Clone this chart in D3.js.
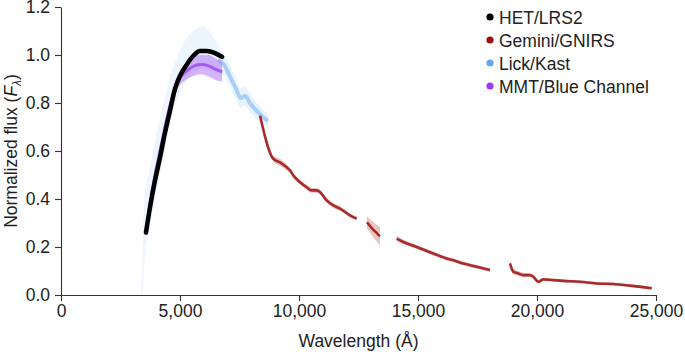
<!DOCTYPE html>
<html>
<head>
  <title>Normalized spectrum</title>
  <script src="https://cdnjs.cloudflare.com/ajax/libs/d3/7.8.5/d3.min.js"></script>
  <style>
    body { margin: 0; background: #fff; }
    text { font-family: "Liberation Sans", Arial, Helvetica, sans-serif; fill: #222; }
    .axis path, .axis line { stroke: #333; stroke-width: 1.1px; }
    .axis text { font-size: 17.5px; fill: #222; }
  </style>
</head>
<body>
  <svg width="685" height="354"></svg>
<script>
// values (wavelength in Angstrom, normalized flux)
// null marks a gap in a spectrum
var hetWave = [3570, 3740, 3950, 4160, 4370, 4580, 4790, 5000, 5300, 5550, 5840, 6130, 6470, 6770];
var hetFlux = [0.26, 0.365, 0.477, 0.573, 0.676, 0.768, 0.859, 0.913, 0.963, 0.996, 1.017, 1.017, 1.008, 0.992];

var mmtWave = [3650, 3800, 3950, 4160, 4370, 4580, 4790, 5000, 5300, 5600, 5900, 6200, 6500, 6770];
var mmtFlux = [0.32, 0.42, 0.50, 0.60, 0.70, 0.79, 0.865, 0.905, 0.935, 0.955, 0.96, 0.955, 0.94, 0.93];
var mmtSpread = [0.02, 0.02, 0.02, 0.02, 0.02, 0.02, 0.025, 0.03, 0.035, 0.04, 0.04, 0.045, 0.045, 0.04];

var lickWave = [3390, 3430, 3470, 3500, 3700, 3900, 4100, 4300, 4550, 4800, 5100, 5400, 5700, 6000, 6300, 6600,
                6850, 7100, 7350, 7560, 7730, 7940, 8190, 8450, 8700];
var lickFlux = [0.02, 0.10, 0.20, 0.26, 0.39, 0.49, 0.59, 0.685, 0.80, 0.88, 0.95, 0.995, 1.02, 1.03, 1.01, 0.98,
                0.96, 0.91, 0.86, 0.82, 0.83, 0.80, 0.77, 0.745, 0.725];
var lickSpread = [0.03, 0.08, 0.12, 0.12, 0.12, 0.12, 0.12, 0.11, 0.10, 0.09, 0.09, 0.09, 0.09, 0.09, 0.08, 0.06,
                  0.045, 0.045, 0.045, 0.04, 0.04, 0.04, 0.035, 0.03, 0.03];

var gnirsWave = [8362, 8922, 9202, 9483, 9622, 9762, 10042, 10322, 10532, 10742, 10882, 11163, 11443, 11723, 12143, 12423,
                 null,
                 12857, 13067, 13277, 13403,
                 null,
                 14105, 14385, 14945, 15645, 16206, 16486, 16906, 17466, 17887, 18025,
                 null,
                 18866, 19006, 19216, 19426, 19706, 19846, 20056, 20266, 20686, 21106, 21807, 22507, 23208, 23909, 24819];
var gnirsFlux = [0.747, 0.567, 0.553, 0.532, 0.519, 0.498, 0.470, 0.449, 0.436, 0.436, 0.429, 0.394, 0.373, 0.360, 0.332, 0.318,
                 null,
                 0.303, 0.278, 0.257, 0.245,
                 null,
                 0.235, 0.221, 0.200, 0.173, 0.152, 0.145, 0.131, 0.118, 0.107, 0.104,
                 null,
                 0.132, 0.097, 0.090, 0.083, 0.083, 0.076, 0.055, 0.065, 0.062, 0.059, 0.055, 0.048, 0.046, 0.039, 0.028];
var gnirsSpread = [0.012, 0.012, 0.015, 0.012, 0.01, 0.01, 0.01, 0.01, 0.01, 0.01, 0.01, 0.01, 0.01, 0.01, 0.008, 0.008,
                   null,
                   0.025, 0.03, 0.035, 0.04,
                   null,
                   0.012, 0.01, 0.008, 0.008, 0.008, 0.008, 0.008, 0.008, 0.008, 0.008,
                   null,
                   0.015, 0.012, 0.01, 0.01, 0.008, 0.008, 0.008, 0.006, 0.006, 0.006, 0.006, 0.006, 0.006, 0.006, 0.006];

var xTicks = [0, 5000, 10000, 15000, 20000, 25000];
var yTicks = [0, 0.2, 0.4, 0.6, 0.8, 1.0, 1.2];

var legendNames = ["HET/LRS2", "Gemini/GNIRS", "Lick/Kast", "MMT/Blue Channel"];
var legendColors = ["#000000", "#9b1111", "#66a8f0", "#9a3cf2"];

function zipSeries(w, f, s) {
  return w.map(function(d, i) { return {w: d, f: f[i], s: s ? s[i] : 0}; });
}

var svg = d3.select("svg"),
    margin = {top: 7, right: 29, bottom: 59, left: 61},
    width = +svg.attr("width") - margin.left - margin.right,
    height = +svg.attr("height") - margin.top - margin.bottom,
    g = svg.append("g").attr("transform", "translate(" + margin.left + "," + margin.top + ")");

var x = d3.scaleLinear().domain([0, 25000]).range([0, width]);
var y = d3.scaleLinear().domain([0, 1.2]).range([height, 0]);

var line = d3.line()
    .defined(function(d) { return d.f != null; })
    .x(function(d) { return x(d.w); })
    .y(function(d) { return y(d.f); })
    .curve(d3.curveMonotoneX);

var band = d3.area()
    .defined(function(d) { return d.f != null; })
    .x(function(d) { return x(d.w); })
    .y0(function(d) { return y(d.f - d.s); })
    .y1(function(d) { return y(d.f + d.s); })
    .curve(d3.curveMonotoneX);

// the Lick cloud is faint where it sits under the other spectra
var grad = svg.append("defs").append("linearGradient")
    .attr("id", "lickFade")
    .attr("gradientUnits", "userSpaceOnUse")
    .attr("x1", margin.left + x(3300)).attr("x2", margin.left + x(8800))
    .attr("y1", 0).attr("y2", 0);
grad.append("stop").attr("offset", "0").attr("stop-color", "#8fc0f6").attr("stop-opacity", 0.16);
grad.append("stop").attr("offset", "0.62").attr("stop-color", "#8fc0f6").attr("stop-opacity", 0.22);
grad.append("stop").attr("offset", "0.66").attr("stop-color", "#8fc0f6").attr("stop-opacity", 0.6);
grad.append("stop").attr("offset", "1").attr("stop-color", "#8fc0f6").attr("stop-opacity", 0.6);

var lick = zipSeries(lickWave, lickFlux, lickSpread),
    mmt = zipSeries(mmtWave, mmtFlux, mmtSpread),
    gnirs = zipSeries(gnirsWave, gnirsFlux, gnirsSpread),
    het = zipSeries(hetWave, hetFlux);

// axes
g.append("g")
    .attr("class", "axis axis--x")
    .attr("transform", "translate(0," + height + ")")
    .call(d3.axisBottom(x).tickValues(xTicks).tickFormat(d3.format(",")).tickSize(6).tickSizeOuter(0).tickPadding(4));

g.append("g")
    .attr("class", "axis axis--y")
    .call(d3.axisLeft(y).tickValues(yTicks).tickFormat(d3.format(".1f")).tickSize(6).tickSizeOuter(0).tickPadding(5));

// spectra
g.append("path").datum(lick).attr("d", band).attr("fill", "url(#lickFade)");
g.append("path").datum(lick.slice(15)).attr("d", line)
    .attr("fill", "none").attr("stroke", "#74b0f2").attr("stroke-width", 4).attr("stroke-opacity", 0.55);

g.append("path").datum(mmt).attr("d", band).attr("fill", "#a45cf4").attr("fill-opacity", 0.45);
g.append("path").datum(mmt).attr("d", line)
    .attr("fill", "none").attr("stroke", "#9a3cf2").attr("stroke-width", 3).attr("stroke-opacity", 0.75);

g.append("path").datum(gnirs).attr("d", band).attr("fill", "#b53a3a").attr("fill-opacity", 0.3);
g.append("path").datum(gnirs).attr("d", line)
    .attr("fill", "none").attr("stroke", "#9b1111").attr("stroke-width", 2.6).attr("stroke-opacity", 0.85);

g.append("path").datum(het).attr("d", line)
    .attr("fill", "none").attr("stroke", "#000").attr("stroke-width", 4.5).attr("stroke-linecap", "round");

// axis titles
svg.append("text")
    .attr("x", margin.left + width / 2)
    .attr("y", 347)
    .attr("text-anchor", "middle")
    .style("font-size", "17.5px")
    .text("Wavelength (Å)");

var yl = svg.append("text")
    .attr("transform", "translate(17," + (margin.top + height / 2) + ") rotate(-90)")
    .attr("text-anchor", "middle")
    .style("font-size", "17.5px");
yl.append("tspan").text("Normalized flux (");
yl.append("tspan").style("font-style", "italic").text("F");
yl.append("tspan").style("font-style", "italic").style("font-size", "12px").attr("dy", 4).text("λ");
yl.append("tspan").attr("dy", -4).text(")");

// legend
var leg = svg.append("g").selectAll("g")
    .data(legendNames)
  .enter().append("g")
    .attr("transform", function(d, i) { return "translate(490," + (17 + i * 23) + ")"; });
leg.append("circle").attr("r", 3.6).attr("fill", function(d, i) { return legendColors[i]; });
leg.append("text").attr("x", 9).attr("y", 6.5).style("font-size", "17.5px").text(function(d) { return d; });
</script>
</body>
</html>
